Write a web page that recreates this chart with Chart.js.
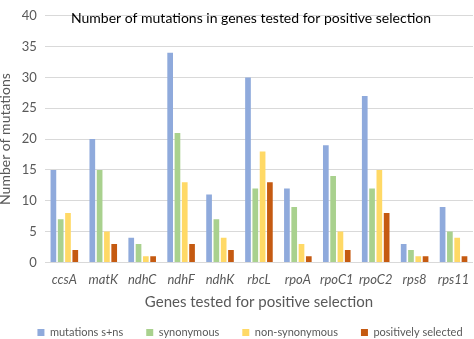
<!DOCTYPE html>
<html>
<head>
<meta charset="utf-8">
<script src="https://cdn.jsdelivr.net/npm/chart.js@4/dist/chart.umd.min.js"></script>
<style>
  html, body { margin: 0; padding: 0; background: #fff; }
  #wrap { width: 474px; height: 339px; position: relative; }
</style>
</head>
<body>
<div id="wrap"><canvas id="mutChart"></canvas></div>
<script>
const genes = ['ccsA', 'matK', 'ndhC', 'ndhF', 'ndhK', 'rbcL', 'rpoA', 'rpoC1', 'rpoC2', 'rps8', 'rps11'];
const totalMutations = [15, 20, 4, 34, 11, 30, 12, 19, 27, 3, 9];
const synonymous = [7, 15, 3, 21, 7, 12, 9, 14, 12, 2, 5];
const nonSynonymous = [8, 5, 1, 13, 4, 18, 3, 5, 15, 1, 4];
const positivelySelected = [2, 3, 1, 3, 2, 13, 1, 2, 8, 1, 1];

const FONT = 'Lato, "Open Sans", sans-serif';
const GREY = '#595959';

// title sits inside the plot area, between the 40 and 35 gridlines
const insideTitle = {
    id: 'insideTitle',
    afterDraw(chart) {
        const ctx = chart.ctx;
        ctx.save();
        ctx.font = '14px ' + FONT;
        ctx.fillStyle = '#000';
        ctx.textAlign = 'center';
        ctx.textBaseline = 'middle';
        ctx.fillText('Number of mutations in genes tested for positive selection', 251, 18);
        ctx.restore();
    }
};

// keep the wide gaps between legend items but trim the legend's vertical space
const LEGEND_TRIM = 20;
const LEGEND_LIFT = 11;
const LEGEND_SHIFT = 15;
const compactLegend = {
    id: 'compactLegend',
    afterInit(chart) {
        const lg = chart.legend;
        if (!lg) return;
        const fit = lg.fit;
        lg.fit = function () {
            fit.call(this);
            this.height -= LEGEND_TRIM;
        };
        const draw = lg.draw;
        lg.draw = function () {
            this.top -= LEGEND_LIFT;
            this.left += LEGEND_SHIFT;
            this.right += LEGEND_SHIFT;
            draw.call(this);
            this.top += LEGEND_LIFT;
            this.left -= LEGEND_SHIFT;
            this.right -= LEGEND_SHIFT;
        };
    }
};

const ctx = document.getElementById('mutChart').getContext('2d');
const mutChart = new Chart(ctx, {
    type: 'bar',
    data: {
        labels: genes,
        datasets: [
            { label: 'mutations s+ns', data: totalMutations, backgroundColor: '#8faadc' },
            { label: 'synonymous', data: synonymous, backgroundColor: '#a9d18e' },
            { label: 'non-synonymous', data: nonSynonymous, backgroundColor: '#ffd966' },
            { label: 'positively selected', data: positivelySelected, backgroundColor: '#c55a11' }
        ]
    },
    options: {
        responsive: true,
        maintainAspectRatio: false,
        animation: false,
        datasets: {
            bar: { categoryPercentage: 0.75, barPercentage: 0.78 }
        },
        layout: { padding: { top: 4, right: 1, left: -3, bottom: 0 } },
        plugins: {
            legend: {
                position: 'bottom',
                labels: {
                    boxWidth: 7,
                    boxHeight: 7,
                    padding: 23,
                    color: GREY,
                    font: { family: FONT, size: 11 }
                }
            },
            tooltip: { enabled: false }
        },
        scales: {
            x: {
                grid: { display: false },
                border: { display: false },
                ticks: {
                    color: GREY,
                    padding: 2,
                    maxRotation: 0,
                    font: { family: FONT, size: 13, style: 'italic' }
                },
                title: {
                    display: true,
                    text: 'Genes tested for positive selection',
                    color: GREY,
                    padding: { top: 3, bottom: 4 },
                    font: { family: FONT, size: 15 }
                }
            },
            y: {
                min: 0,
                max: 40,
                ticks: {
                    stepSize: 5,
                    color: GREY,
                    padding: 8,
                    font: { family: FONT, size: 13 }
                },
                grid: { color: '#d9d9d9', drawTicks: false },
                border: { display: false },
                title: {
                    display: true,
                    text: 'Number of mutations',
                    color: GREY,
                    padding: 0,
                    font: { family: FONT, size: 14 }
                }
            }
        }
    },
    plugins: [insideTitle, compactLegend]
});
</script>
</body>
</html>
